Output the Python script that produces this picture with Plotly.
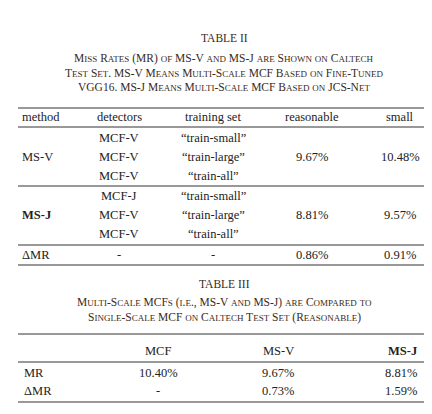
import plotly.graph_objects as go

# table II data
t2_header = ["method", "detectors", "training set", "reasonable", "small"]
t2_detectors = ["MCF-V", "MCF-V", "MCF-V", "MCF-J", "MCF-V", "MCF-V"]
t2_train = ["“train-small”", "“train-large”", "“train-all”",
            "“train-small”", "“train-large”", "“train-all”"]
t2_methods = ["MS-V", "<b>MS-J</b>"]
t2_reasonable = ["9.67%", "8.81%"]
t2_small = ["10.48%", "9.57%"]
t2_delta = ["ΔMR", "-", "-", "0.86%", "0.91%"]

# table III data
t3_header = ["", "MCF", "MS-V", "<b>MS-J</b>"]
t3_rows = [["MR", "10.40%", "9.67%", "8.81%"],
           ["ΔMR", "-", "0.73%", "1.59%"]]

cap2 = ["Miss Rates (MR) of MS-V and MS-J are Shown on Caltech",
        "Test Set. MS-V Means Multi-Scale MCF Based on Fine-Tuned",
        "VGG16. MS-J Means Multi-Scale MCF Based on JCS-Net"]
cap3 = ["Multi-Scale MCFs (i.e., MS-V and MS-J) are Compared to",
        "Single-Scale MCF on Caltech Test Set (Reasonable)"]

FONT = "Liberation Serif, Times New Roman, DejaVu Serif, serif"
INK = "#222"
CAP = "#3a2a20"


def smallcaps(s, small=9):
    out = ""
    for ch in s:
        if ch.islower():
            out += '<span style="font-size:%spx">%s</span>' % (small, ch.upper())
        else:
            out += ch
    return out


fig = go.Figure()
ann = []


def txt(x, y, s, anchor="center", size=12.5, color=INK):
    ann.append(dict(x=x, y=y, text=s, showarrow=False, xanchor=anchor,
                    yanchor="middle", font=dict(family=FONT, size=size, color=color)))


def rule(y, w=1):
    fig.add_shape(type="line", x0=10, x1=420, y0=y, y1=y,
                  line=dict(color="#333", width=w))


txt(216, 30, "TABLE II", size=11.5, color=CAP)
for i, c in enumerate(cap2):
    txt(216, 50 + i * 14.5, smallcaps(c), size=11.5, color=CAP)

rule(100, 1.2)
cols2 = [(12, "left"), (111, "center"), (205, "center"), (304, "center"), (392, "center")]
for (x, a), h in zip(cols2, t2_header):
    txt(x, 109, h, a)
rule(119)
row_y = [130, 149, 168, 188, 207, 226]
for i in range(6):
    txt(111, row_y[i], t2_detectors[i])
    txt(205, row_y[i], t2_train[i])
for g in range(2):
    y = row_y[g * 3 + 1]
    txt(12, y, t2_methods[g], "left")
    txt(304, y, t2_reasonable[g])
    txt(392, y, t2_small[g])
rule(178)
rule(237)
for (x, a), v in zip(cols2, t2_delta):
    txt(x, 247, v, a)
rule(257, 1.2)

txt(216, 276, "TABLE III", size=11.5, color=CAP)
for i, c in enumerate(cap3):
    txt(216, 294 + i * 15, smallcaps(c), size=11.5, color=CAP)

rule(326, 1.2)
cols3 = [(14, "left"), (150, "center"), (270, "center"), (411, "right")]
for (x, a), h in zip(cols3, t3_header):
    txt(x, 343, h, a)
rule(354)
for r, y in zip(t3_rows, [365, 383]):
    for (x, a), v in zip(cols3, r):
        txt(x, y, v, a)
rule(394, 1.2)

fig.update_layout(
    width=432, height=414, margin=dict(l=0, r=0, t=0, b=0),
    paper_bgcolor="white", plot_bgcolor="white", annotations=ann,
    xaxis=dict(range=[0, 432], visible=False, fixedrange=True),
    yaxis=dict(range=[414, 0], visible=False, fixedrange=True),
    showlegend=False,
)
fig.write_html("out.html")
